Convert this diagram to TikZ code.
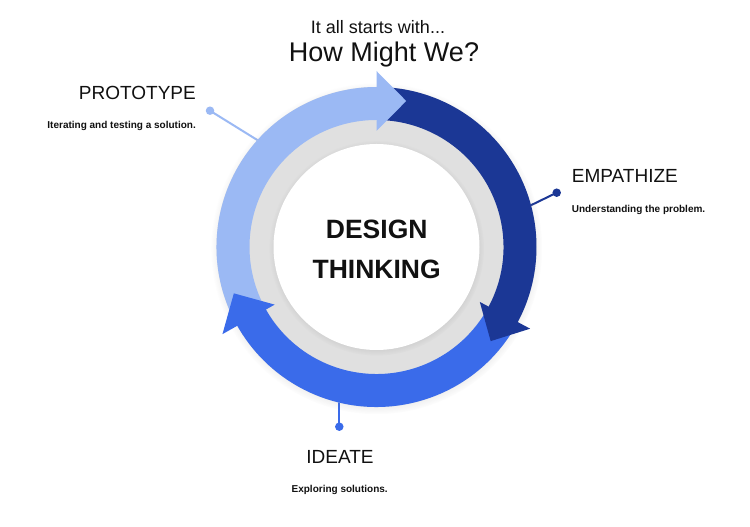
\documentclass[tikz,border=0pt]{standalone}
\usepackage{fontspec}
\setmainfont{Liberation Sans}
\usetikzlibrary{shadows,fadings}
\definecolor{lightband}{HTML}{9BB9F4}
\definecolor{darkband}{HTML}{1B3795}
\definecolor{midband}{HTML}{3A6BEA}
\definecolor{ringgray}{HTML}{E0E0E0}
\definecolor{ink}{HTML}{111111}
\begin{document}
\begin{tikzpicture}[x=1pt,y=1pt,
  stagelabel/.style={inner sep=0pt, text=ink, font=\fontsize{19}{22}\selectfont},
  desc/.style={inner sep=0pt, text=ink, font=\bfseries\fontsize{10}{12}\selectfont},
  centertext/.style={inner sep=0pt, text=ink, font=\bfseries\fontsize{26.5}{30}\selectfont, anchor=base},
  connector/.style={line width=2pt},
  dotnode/.style={circle, inner sep=0pt, minimum size=8.5pt},
]
\useasboundingbox (0,0) rectangle (750,527);
\fill[white] (0,0) rectangle (750,527);
\coordinate (c) at (376.5,280);

% connectors (under the ring)
\node[dotnode, fill=lightband] (pdot) at (210,416.3) {};
\node[dotnode, fill=darkband] (edot) at (556.7,334.3) {};
\node[dotnode, fill=midband] (idot) at (339.3,100.3) {};
\coordinate (pring) at ([shift={(137.4:150)}]c);
\coordinate (ering) at ([shift={(14.4:150)}]c);
\coordinate (iring) at (339.3,150);
\draw[connector, lightband] (pdot.center) -- (pring);
\draw[connector, darkband] (edot.center) -- (ering);
\draw[connector, midband] (idot.center) -- (iring);

% gray base disk
\path[fill=ringgray, circular drop shadow={shadow xshift=0pt, shadow yshift=-1.5pt, shadow scale=1.035, opacity=0.35}] (c) circle[radius=160];

\begin{scope}[shift={(c)}]
  % bands (all seams hidden under the arrowheads)
  \fill[lightband] (207.5:160) arc[start angle=207.5, end angle=87, radius=160]
     -- (87:127) arc[start angle=87, end angle=207.5, radius=127] -- cycle;
  \fill[darkband] (88:160) arc[start angle=88, end angle=-31, radius=160]
     -- (-31:127) arc[start angle=-31, end angle=88, radius=127] -- cycle;
  \fill[midband] (-30:160) arc[start angle=-30, end angle=-153.5, radius=160]
     -- (-153.5:127) arc[start angle=-153.5, end angle=-30, radius=127] -- cycle;
  % arrowheads
  \fill[lightband] (90:116) -- (90:176) -- (78.5:149) -- cycle;
  \fill[darkband] (-28:117) -- (-28:174) -- (-39.5:148) -- cycle;
  \fill[midband] (209.5:117) -- (209.5:177) -- (198:150) -- cycle;
\end{scope}

% white centre
\path[fill=white, circular drop shadow={shadow xshift=0pt, shadow yshift=-1pt, shadow scale=1.045, opacity=0.35}] (c) circle[radius=103];

\node[centertext] (design) at (376.7,288.7) {DESIGN};
\node[centertext] (thinking) at (376.7,248.7) {THINKING};

% title
\node[inner sep=0pt, anchor=base, text=ink, font=\fontsize{18}{20}\selectfont] (intro) at (378,493) {It all starts with...};
\node[inner sep=0pt, anchor=base, text=ink, font=\fontsize{27}{30}\selectfont] (hmw) at (384,465.3) {How Might We?};

% stage labels
\node[stagelabel, anchor=base east] (proto) at (196,427) {PROTOTYPE};
\node[desc, anchor=base east] (protodesc) at (196,398.7) {Iterating and testing a solution.};
\node[stagelabel, anchor=base west] (empa) at (571.7,344.7) {EMPATHIZE};
\node[desc, anchor=base west] (empadesc) at (571.7,314.7) {Understanding the problem.};
\node[stagelabel, anchor=base] (ideate) at (340,63.7) {IDEATE};
\node[desc, anchor=base] (ideatedesc) at (339.7,34.3) {Exploring solutions.};
\end{tikzpicture}
\end{document}
